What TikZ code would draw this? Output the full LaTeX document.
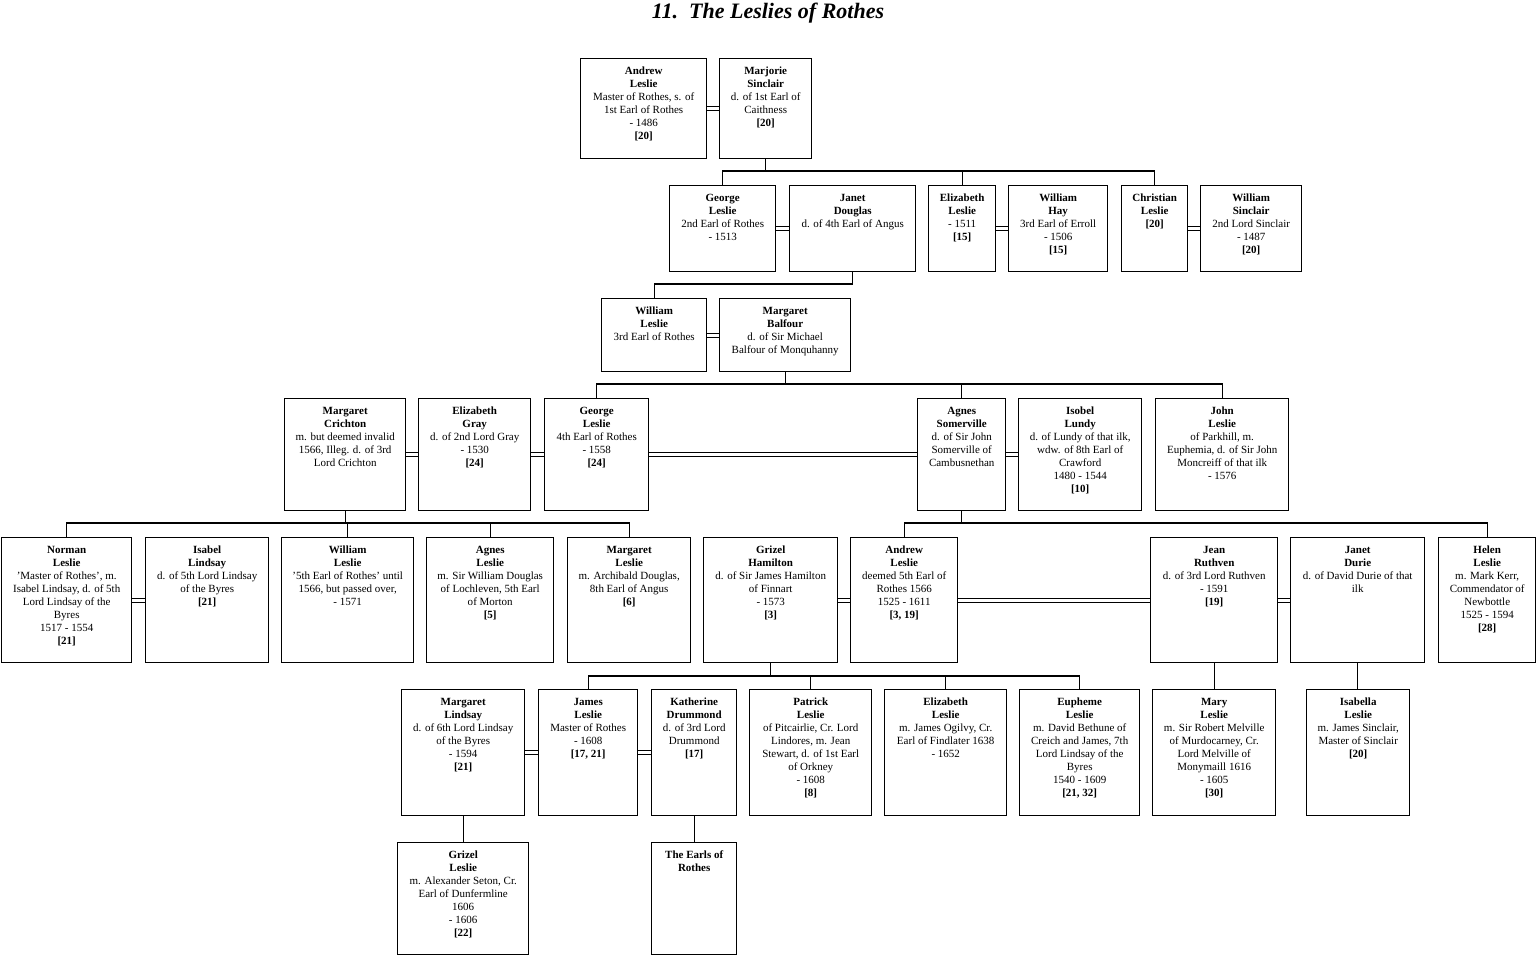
\documentclass[tikz,border=0pt]{standalone}
\usepackage{fontspec}
\setmainfont{Liberation Serif}
\begin{document}
\newcommand\pp[7]{\node[box] (#1) at (#2,#3) {\parbox[t][\dimexpr(#5pt-#3pt)/2\relax][t]{\dimexpr(#4pt-#2pt)/2\relax}{\centering\vspace*{4.2pt}\textbf{#6}\\#7\par}};}
\begin{tikzpicture}[x=0.5pt,y=-0.5pt,
  box/.style={draw,line width=0.7pt,inner sep=0pt,anchor=north west,font=\fontsize{5.5}{6.5}\selectfont},
  ln/.style={line width=0.7pt},
  mar/.style={double,double distance=1.7pt,line width=0.5pt}]
\useasboundingbox (0,0) rectangle (1536,955);
\node[font=\fontsize{11}{13}\selectfont\bfseries\itshape] (title) at (768,13) {11.\ \ The Leslies of Rothes};
% row 1
\pp{andrew}{580}{58}{706}{158}{Andrew\\Leslie}{Master of Rothes, s. of\\1st Earl of Rothes\\- 1486\\\textbf{[20]}}
\pp{marjorie}{719}{58}{811}{158}{Marjorie\\Sinclair}{d. of 1st Earl of\\Caithness\\\textbf{[20]}}
% row 2
\pp{george}{669}{185}{775}{271}{George\\Leslie}{2nd Earl of Rothes\\- 1513}
\pp{janet}{789}{185}{915}{271}{Janet\\Douglas}{d. of 4th Earl of Angus}
\pp{eliz}{928}{185}{995}{271}{Elizabeth\\Leslie}{- 1511\\\textbf{[15]}}
\pp{hay}{1008}{185}{1107}{271}{William\\Hay}{3rd Earl of Erroll\\- 1506\\\textbf{[15]}}
\pp{christian}{1121}{185}{1187}{271}{Christian\\Leslie}{\textbf{[20]}}
\pp{wsinclair}{1200}{185}{1301}{271}{William\\Sinclair}{2nd Lord Sinclair\\- 1487\\\textbf{[20]}}
% row 3
\pp{william3}{601}{298}{706}{371}{William\\Leslie}{3rd Earl of Rothes}
\pp{balfour}{719}{298}{850}{371}{Margaret\\Balfour}{d. of Sir Michael\\Balfour of Monquhanny}
% row 4
\pp{crichton}{284}{398}{405}{510}{Margaret\\Crichton}{m. but deemed invalid\\1566, Illeg. d. of 3rd\\Lord Crichton}
\pp{gray}{418}{398}{530}{510}{Elizabeth\\Gray}{d. of 2nd Lord Gray\\- 1530\\\textbf{[24]}}
\pp{george4}{544}{398}{648}{510}{George\\Leslie}{4th Earl of Rothes\\- 1558\\\textbf{[24]}}
\pp{agnes}{917}{398}{1005}{510}{Agnes\\Somerville}{d. of Sir John\\Somerville of\\Cambusnethan}
\pp{isobel}{1018}{398}{1141}{510}{Isobel\\Lundy}{d. of Lundy of that ilk,\\wdw. of 8th Earl of\\Crawford\\1480 - 1544\\\textbf{[10]}}
\pp{john}{1155}{398}{1288}{510}{John\\Leslie}{of Parkhill, m.\\Euphemia, d. of Sir John\\Moncreiff of that ilk\\- 1576}
% row 5
\pp{norman}{1}{537}{131}{662}{Norman\\Leslie}{'Master of Rothes', m.\\Isabel Lindsay, d. of 5th\\Lord Lindsay of the\\Byres\\1517 - 1554\\\textbf{[21]}}
\pp{isabel}{145}{537}{268}{662}{Isabel\\Lindsay}{d. of 5th Lord Lindsay\\of the Byres\\\textbf{[21]}}
\pp{william5}{281}{537}{413}{662}{William\\Leslie}{'5th Earl of Rothes' until\\1566, but passed over,\\- 1571}
\pp{agnesl}{426}{537}{553}{662}{Agnes\\Leslie}{m. Sir William Douglas\\of Lochleven, 5th Earl\\of Morton\\\textbf{[5]}}
\pp{margaretl}{567}{537}{690}{662}{Margaret\\Leslie}{m. Archibald Douglas,\\8th Earl of Angus\\\textbf{[6]}}
\pp{grizel}{703}{537}{837}{662}{Grizel\\Hamilton}{d. of Sir James Hamilton\\of Finnart\\- 1573\\\textbf{[3]}}
\pp{andrew5}{850}{537}{957}{662}{Andrew\\Leslie}{deemed 5th Earl of\\Rothes 1566\\1525 - 1611\\\textbf{[3, 19]}}
\pp{jean}{1150}{537}{1277}{662}{Jean\\Ruthven}{d. of 3rd Lord Ruthven\\- 1591\\\textbf{[19]}}
\pp{durie}{1290}{537}{1424}{662}{Janet\\Durie}{d. of David Durie of that\\ilk}
\pp{helen}{1438}{537}{1535}{662}{Helen\\Leslie}{m. Mark Kerr,\\Commendator of\\Newbottle\\1525 - 1594\\\textbf{[28]}}
% row 6
\pp{mlindsay}{401}{689}{524}{815}{Margaret\\Lindsay}{d. of 6th Lord Lindsay\\of the Byres\\- 1594\\\textbf{[21]}}
\pp{james}{538}{689}{637}{815}{James\\Leslie}{Master of Rothes\\- 1608\\\textbf{[17, 21]}}
\pp{katherine}{651}{689}{736}{815}{Katherine\\Drummond}{d. of 3rd Lord\\Drummond\\\textbf{[17]}}
\pp{patrick}{749}{689}{871}{815}{Patrick\\Leslie}{of Pitcairlie, Cr. Lord\\Lindores, m. Jean\\Stewart, d. of 1st Earl\\of Orkney\\- 1608\\\textbf{[8]}}
\pp{elizl}{884}{689}{1006}{815}{Elizabeth\\Leslie}{m. James Ogilvy, Cr.\\Earl of Findlater 1638\\- 1652}
\pp{eupheme}{1019}{689}{1139}{815}{Eupheme\\Leslie}{m. David Bethune of\\Creich and James, 7th\\Lord Lindsay of the\\Byres\\1540 - 1609\\\textbf{[21, 32]}}
\pp{mary}{1152}{689}{1275}{815}{Mary\\Leslie}{m. Sir Robert Melville\\of Murdocarney, Cr.\\Lord Melville of\\Monymaill 1616\\- 1605\\\textbf{[30]}}
\pp{isabella}{1306}{689}{1409}{815}{Isabella\\Leslie}{m. James Sinclair,\\Master of Sinclair\\\textbf{[20]}}
% row 7
\pp{grizell}{397}{842}{528}{954}{Grizel\\Leslie}{m. Alexander Seton, Cr.\\Earl of Dunfermline\\1606\\- 1606\\\textbf{[22]}}
\pp{earls}{651}{842}{736}{954}{The Earls of\\Rothes}{}
% marriages
\draw[mar] (andrew.east) -- (marjorie.west);
\draw[mar] (george.east) -- (janet.west);
\draw[mar] (eliz.east) -- (hay.west);
\draw[mar] (christian.east) -- (wsinclair.west);
\draw[mar] (william3.east) -- (balfour.west);
\draw[mar] (crichton.east) -- (gray.west);
\draw[mar] (gray.east) -- (george4.west);
\draw[mar] (george4.east) -- (agnes.west);
\draw[mar] (agnes.east) -- (isobel.west);
\draw[mar] (norman.east) -- (isabel.west);
\draw[mar] (grizel.east) -- (andrew5.west);
\draw[mar] (andrew5.east) -- (jean.west);
\draw[mar] (jean.east) -- (durie.west);
\draw[mar] (mlindsay.east) -- (james.west);
\draw[mar] (james.east) -- (katherine.west);
% descents
\draw[ln] (marjorie.south) -- (marjorie.south |- 0,171);
\draw[ln] (george.north) |- (christian.north |- 0,171) -- (christian.north);
\draw[ln] (eliz.north) -- (eliz.north |- 0,171);
\draw[ln] (janet.south) |- (william3.north |- 0,284) -- (william3.north);
\draw[ln] (balfour.south) -- (balfour.south |- 0,384);
\draw[ln] (george4.north) |- (john.north |- 0,384) -- (john.north);
\draw[ln] (agnes.north) -- (agnes.north |- 0,384);
\draw[ln] (crichton.south) -- (crichton.south |- 0,523);
\draw[ln] (norman.north) |- (margaretl.north |- 0,523) -- (margaretl.north);
\draw[ln] (william5.north) -- (william5.north |- 0,523);
\draw[ln] (agnesl.north) -- (agnesl.north |- 0,523);
\draw[ln] (agnes.south) -- (agnes.south |- 0,523);
\draw[ln] (andrew5.north) |- (helen.north |- 0,523) -- (helen.north);
\draw[ln] (grizel.south) -- (grizel.south |- 0,676);
\draw[ln] (james.north) |- (eupheme.north |- 0,676) -- (eupheme.north);
\draw[ln] (patrick.north) -- (patrick.north |- 0,676);
\draw[ln] (elizl.north) -- (elizl.north |- 0,676);
\draw[ln] (jean.south) -- (mary.north -| jean.south);
\draw[ln] (durie.south) -- (isabella.north -| durie.south);
\draw[ln] (mlindsay.south) -- (grizell.north -| mlindsay.south);
\draw[ln] (katherine.south) -- (earls.north);
\end{tikzpicture}
\end{document}
